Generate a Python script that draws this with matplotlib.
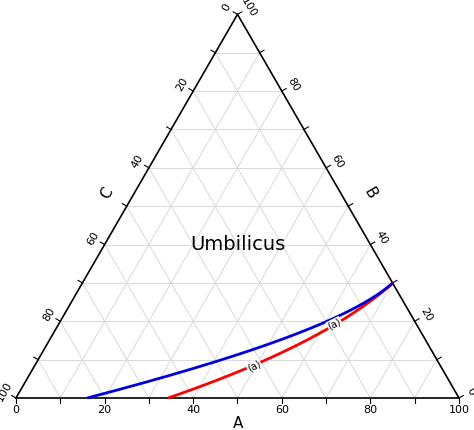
import numpy as np
import matplotlib
matplotlib.use("Agg")
import matplotlib.pyplot as plt

ticks = [0, 20, 40, 60, 80, 100]
blue_A = [16, 31, 52.5, 61, 70]
blue_B = [0, 5.5, 15.6, 20.3, 30]
red_A = [34.3, 48.8, 61.6, 68.3, 70]
red_B = [0, 8.1, 18.5, 26.3, 30]

X0, Y0, W = 16.0, 398.0, 443.0
H = W * np.sqrt(3) / 2

def tp(a, b):
    a = np.asarray(a, float) / 100; b = np.asarray(b, float) / 100
    return X0 + W * (a + b / 2), Y0 - H * b

fig = plt.figure(figsize=(4.74, 4.30), dpi=100)
ax = fig.add_axes([0, 0, 1, 1])
ax.set_xlim(0, 474); ax.set_ylim(430, 0); ax.axis('off')

for v in range(10, 100, 10):
    for p, q in [((v, 0), (v, 100 - v)), ((0, v), (100 - v, v)), ((0, 100 - v), (100 - v, 0))]:
        x, y = tp([p[0], q[0]], [p[1], q[1]])
        ax.plot(x, y, color='#d9d9d9', lw=0.7, zorder=1)
x, y = tp([0, 100, 0, 0], [0, 0, 100, 0])
ax.plot(x, y, color='black', lw=1.2, zorder=3)

L = 5
for v in range(0, 101, 10):
    x, y = tp(v, 0)
    ax.plot([x, x], [y, y + L], color='k', lw=0.8)
    if v in ticks:
        ax.text(x, y + 12, str(v), ha='center', va='center', fontsize=8)
    x, y = tp(100 - v, v)
    dx, dy = np.cos(np.radians(30)), -np.sin(np.radians(30))
    ax.plot([x, x + L * dx], [y, y + L * dy], color='k', lw=0.8)
    if v in ticks:
        ax.text(x + 13 * dx, y + 13 * dy, str(v), ha='center', va='center', fontsize=8, rotation=-60)
    x, y = tp(0, 100 - v)
    dx, dy = -np.cos(np.radians(30)), -np.sin(np.radians(30))
    ax.plot([x, x + L * dx], [y, y + L * dy], color='k', lw=0.8)
    if v in ticks:
        ax.text(x + 13 * dx, y + 13 * dy, str(v), ha='center', va='center', fontsize=8, rotation=60)

ax.text(238, 423, 'A', ha='center', va='center', fontsize=11)
ax.text(107, 193, 'C', ha='center', va='center', fontsize=11, rotation=60)
ax.text(370, 193, 'B', ha='center', va='center', fontsize=11, rotation=-60)
ax.text(238, 245, 'Umbilicus', ha='center', va='center', fontsize=14)

def smooth(A, B):
    c = np.polyfit(B, A, 3)
    bb = np.linspace(min(B), max(B), 200)
    return np.polyval(c, bb), bb

a, b = smooth(red_A, red_B)
x, y = tp(a, b)
ax.plot(x, y, color='red', lw=2, zorder=4, solid_capstyle='butt')
a, b = smooth(blue_A, blue_B)
x, y = tp(a, b)
ax.plot(x, y, color='#0000dd', lw=2, zorder=5, solid_capstyle='butt')

for la, lb in [(49.5, 8.4), (62.3, 19.2)]:
    x, y = tp(la, lb)
    ax.text(x, y, '(a)', ha='center', va='center', fontsize=7, rotation=27, zorder=6,
            bbox=dict(facecolor='white', edgecolor='none', pad=0.5))

fig.savefig('out.png', dpi=100)
